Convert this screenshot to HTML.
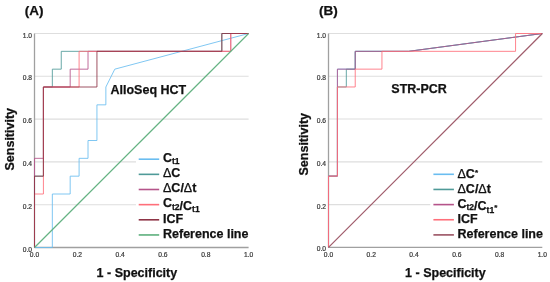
<!DOCTYPE html>
<html><head><meta charset="utf-8"><style>
html,body{margin:0;padding:0;background:#fff;}
svg{display:block;will-change:transform;}
text{font-family:"Liberation Sans",sans-serif;}
.tk{font-size:6.7px;fill:#3a3a3a;stroke:#3a3a3a;stroke-width:0.22px;}
.bt{font-size:12.5px;font-weight:bold;fill:#111;stroke:#111;stroke-width:0.25px;}
.sb{font-size:8.5px;}
.sp{font-size:8px;}
.dl{font-weight:normal;}
.lb{font-size:13.5px;}
</style></head><body>
<svg width="550" height="282" viewBox="0 0 550 282">
<rect width="550" height="282" fill="#fff"/>
<line x1="34.50" y1="204.70" x2="136.00" y2="204.70" stroke="#DEDEDE" stroke-width="1.1"/>
<line x1="34.50" y1="161.90" x2="136.00" y2="161.90" stroke="#DEDEDE" stroke-width="1.1"/>
<line x1="34.50" y1="119.10" x2="248.60" y2="119.10" stroke="#DEDEDE" stroke-width="1.1"/>
<line x1="34.50" y1="76.30" x2="248.60" y2="76.30" stroke="#DEDEDE" stroke-width="1.1"/>
<line x1="34.50" y1="33.50" x2="248.60" y2="33.50" stroke="#DEDEDE" stroke-width="1.1"/>
<line x1="34.50" y1="33.50" x2="34.50" y2="247.50" stroke="#A0A0A0" stroke-width="1.3"/>
<line x1="34.50" y1="247.50" x2="248.60" y2="247.50" stroke="#A0A0A0" stroke-width="1.3"/>
<text x="32.10" y="251.50" class="tk" text-anchor="end">0.0</text>
<text x="34.50" y="257.10" class="tk" text-anchor="middle">0.0</text>
<text x="32.10" y="208.70" class="tk" text-anchor="end">0.2</text>
<text x="77.32" y="257.10" class="tk" text-anchor="middle">0.2</text>
<text x="32.10" y="165.90" class="tk" text-anchor="end">0.4</text>
<text x="120.14" y="257.10" class="tk" text-anchor="middle">0.4</text>
<text x="32.10" y="123.10" class="tk" text-anchor="end">0.6</text>
<text x="162.96" y="257.10" class="tk" text-anchor="middle">0.6</text>
<text x="32.10" y="80.30" class="tk" text-anchor="end">0.8</text>
<text x="205.78" y="257.10" class="tk" text-anchor="middle">0.8</text>
<text x="32.10" y="37.50" class="tk" text-anchor="end">1.0</text>
<text x="248.60" y="257.10" class="tk" text-anchor="middle">1.0</text>
<polyline points="34.50,247.50 52.34,247.50 52.34,194.00 70.18,194.00 70.18,176.17 79.10,176.17 79.10,158.33 88.03,158.33 88.03,140.50 96.95,140.50 96.95,104.83 105.87,104.83 105.87,87.00 114.79,69.17 248.60,33.50" fill="none" stroke="#6ABDF0" stroke-width="1.0" stroke-opacity="0.85"/>
<polyline points="34.50,247.50 34.50,176.17 43.42,176.17 43.42,87.00 52.34,87.00 52.34,69.17 61.26,69.17 61.26,51.33 221.84,51.33 221.84,33.50 248.60,33.50" fill="none" stroke="#4F9A98" stroke-width="1.0" stroke-opacity="0.85"/>
<polyline points="34.50,247.50 34.50,158.33 43.42,158.33 43.42,87.00 70.18,87.00 70.18,69.17 88.03,69.17 88.03,51.33 230.76,51.33 230.76,33.50 248.60,33.50" fill="none" stroke="#B5548A" stroke-width="1.0" stroke-opacity="0.85"/>
<polyline points="34.50,247.50 34.50,194.00 43.42,194.00 43.42,87.00 79.10,87.00 79.10,51.33 230.76,51.33 230.76,33.50 248.60,33.50" fill="none" stroke="#FF6F7A" stroke-width="1.0" stroke-opacity="0.85"/>
<polyline points="34.50,247.50 34.50,176.17 43.42,176.17 43.42,87.00 96.95,87.00 96.95,51.33 221.84,51.33 221.84,33.50 248.60,33.50" fill="none" stroke="#8E3446" stroke-width="1.0" stroke-opacity="0.85"/>
<polyline points="34.50,247.50 248.60,33.50" fill="none" stroke="#5DAF7C" stroke-width="1.2" stroke-opacity="0.95"/>
<text x="110.5" y="94" class="bt">AlloSeq HCT</text>
<line x1="138.70" y1="159.20" x2="159.20" y2="159.20" stroke="#6ABDF0" stroke-width="1.6"/>
<text x="163.00" y="161.90" class="bt">C<tspan class="sb" dy="2.4">t1</tspan><tspan dy="-2.4"></tspan></text>
<line x1="138.70" y1="174.35" x2="159.20" y2="174.35" stroke="#4F9A98" stroke-width="1.6"/>
<text x="163.00" y="177.05" class="bt"><tspan class="dl">Δ</tspan>C</text>
<line x1="138.70" y1="189.50" x2="159.20" y2="189.50" stroke="#B5548A" stroke-width="1.6"/>
<text x="163.00" y="192.20" class="bt"><tspan class="dl">Δ</tspan>C/<tspan class="dl">Δ</tspan>t</text>
<line x1="138.70" y1="204.65" x2="159.20" y2="204.65" stroke="#FF6F7A" stroke-width="1.6"/>
<text x="163.00" y="207.35" class="bt">C<tspan class="sb" dy="2.4">t2</tspan><tspan dy="-2.4"></tspan>/C<tspan class="sb" dy="2.4">t1</tspan><tspan dy="-2.4"></tspan></text>
<line x1="138.70" y1="219.80" x2="159.20" y2="219.80" stroke="#8E3446" stroke-width="1.6"/>
<text x="163.00" y="222.50" class="bt">ICF</text>
<line x1="138.70" y1="234.95" x2="159.20" y2="234.95" stroke="#5DAF7C" stroke-width="1.6"/>
<text x="163.00" y="237.65" class="bt">Reference line</text>
<text x="96.6" y="276.5" class="bt">1 - Specificity</text>
<text x="24.8" y="15.0" class="bt lb">(A)</text>
<line x1="328.50" y1="204.62" x2="430.30" y2="204.62" stroke="#DEDEDE" stroke-width="1.1"/>
<line x1="328.50" y1="161.84" x2="542.30" y2="161.84" stroke="#DEDEDE" stroke-width="1.1"/>
<line x1="328.50" y1="119.06" x2="542.30" y2="119.06" stroke="#DEDEDE" stroke-width="1.1"/>
<line x1="328.50" y1="76.28" x2="542.30" y2="76.28" stroke="#DEDEDE" stroke-width="1.1"/>
<line x1="328.50" y1="33.50" x2="542.30" y2="33.50" stroke="#DEDEDE" stroke-width="1.1"/>
<line x1="328.50" y1="33.50" x2="328.50" y2="247.40" stroke="#A0A0A0" stroke-width="1.3"/>
<line x1="328.50" y1="247.40" x2="542.30" y2="247.40" stroke="#A0A0A0" stroke-width="1.3"/>
<text x="326.10" y="251.40" class="tk" text-anchor="end">0.0</text>
<text x="328.50" y="257.00" class="tk" text-anchor="middle">0.0</text>
<text x="326.10" y="208.62" class="tk" text-anchor="end">0.2</text>
<text x="371.26" y="257.00" class="tk" text-anchor="middle">0.2</text>
<text x="326.10" y="165.84" class="tk" text-anchor="end">0.4</text>
<text x="414.02" y="257.00" class="tk" text-anchor="middle">0.4</text>
<text x="326.10" y="123.06" class="tk" text-anchor="end">0.6</text>
<text x="456.78" y="257.00" class="tk" text-anchor="middle">0.6</text>
<text x="326.10" y="80.28" class="tk" text-anchor="end">0.8</text>
<text x="499.54" y="257.00" class="tk" text-anchor="middle">0.8</text>
<text x="326.10" y="37.50" class="tk" text-anchor="end">1.0</text>
<text x="542.30" y="257.00" class="tk" text-anchor="middle">1.0</text>
<polyline points="328.50,247.40 328.50,176.10 337.41,176.10 337.41,69.15 355.23,69.15 355.23,51.33 408.67,51.33 542.30,33.50" fill="none" stroke="#6ABDF0" stroke-width="1.0" stroke-opacity="0.85"/>
<polyline points="328.50,247.40 328.50,176.10 337.41,176.10 337.41,86.97 346.32,86.97 346.32,69.15 355.23,69.15 355.23,51.33 408.67,51.33 542.30,33.50" fill="none" stroke="#4F9A98" stroke-width="1.0" stroke-opacity="0.85"/>
<polyline points="328.50,247.40 328.50,176.10 337.41,176.10 337.41,69.15 355.23,69.15 355.23,51.33 408.67,51.33 542.30,33.50" fill="none" stroke="#B5548A" stroke-width="1.0" stroke-opacity="0.85"/>
<polyline points="328.50,247.40 328.50,176.10 337.41,176.10 337.41,86.97 355.23,86.97 355.23,69.15 381.95,69.15 381.95,51.33 515.57,51.33 515.57,33.50 542.30,33.50" fill="none" stroke="#FF6F7A" stroke-width="1.0" stroke-opacity="0.85"/>
<polyline points="328.50,247.40 542.30,33.50" fill="none" stroke="#9A5262" stroke-width="1.2" stroke-opacity="0.95"/>
<text x="391.3" y="93" class="bt">STR-PCR</text>
<line x1="433.40" y1="174.30" x2="453.90" y2="174.30" stroke="#6ABDF0" stroke-width="1.6"/>
<text x="457.50" y="177.60" class="bt"><tspan class="dl">Δ</tspan>C<tspan class="sp" dy="-3">*</tspan><tspan dy="3"></tspan></text>
<line x1="433.40" y1="189.45" x2="453.90" y2="189.45" stroke="#4F9A98" stroke-width="1.6"/>
<text x="457.50" y="192.75" class="bt"><tspan class="dl">Δ</tspan>C/<tspan class="dl">Δ</tspan>t</text>
<line x1="433.40" y1="204.60" x2="453.90" y2="204.60" stroke="#B5548A" stroke-width="1.6"/>
<text x="457.50" y="207.90" class="bt">C<tspan class="sb" dy="2.4">t2</tspan><tspan dy="-2.4"></tspan>/C<tspan class="sb" dy="2.4">t1</tspan><tspan dy="-2.4"></tspan><tspan class="sp" dy="-3">*</tspan><tspan dy="3"></tspan></text>
<line x1="433.40" y1="219.75" x2="453.90" y2="219.75" stroke="#FF6F7A" stroke-width="1.6"/>
<text x="457.50" y="223.05" class="bt">ICF</text>
<line x1="433.40" y1="234.90" x2="453.90" y2="234.90" stroke="#9A5262" stroke-width="1.6"/>
<text x="457.50" y="238.20" class="bt">Reference line</text>
<text x="405.1" y="276.5" class="bt">1 - Specificity</text>
<text x="319.0" y="15.0" class="bt lb">(B)</text>
<text transform="translate(13.5,170.5) rotate(-90)" class="bt">Sensitivity</text>
<text transform="translate(308,175.5) rotate(-90)" class="bt">Sensitivity</text>
</svg>
</body></html>
